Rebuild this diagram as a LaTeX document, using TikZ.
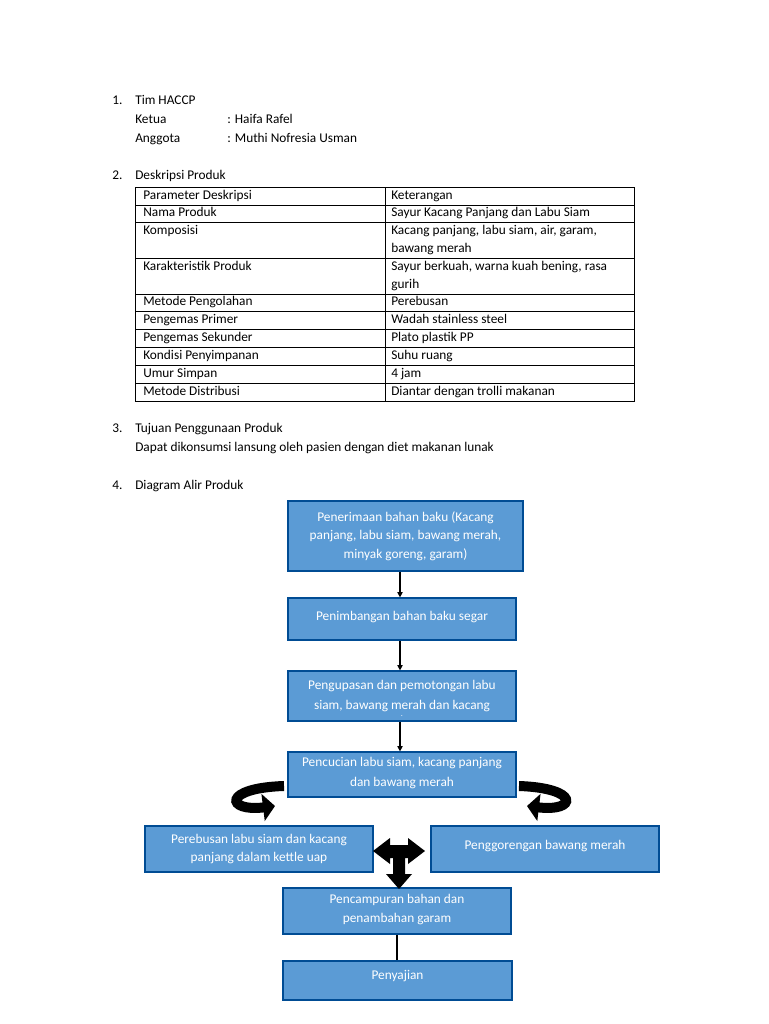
\documentclass[tikz,border=0pt]{standalone}
\usepackage{fontspec}
\setmainfont{Carlito}
\usetikzlibrary{arrows.meta}
\begin{document}
\begin{tikzpicture}[x=0.75pt,y=-0.75pt,font=\fontsize{10}{12}\selectfont,
  flow/.style={draw=blue!40!black!70!cyan,line width=0.9pt,fill={rgb,255:red,91;green,155;blue,213},text=white,align=center,inner sep=0pt},
  conn/.style={-{Triangle[length=4pt,width=4pt]},line width=0.8pt},
  cell/.style={anchor=west,inner sep=0pt,text height=7pt,text depth=2pt}]
\useasboundingbox (0,0) rectangle (768,1024);
% Section 1
\node[cell] (n1) at (112,101) {1.};
\node[cell] (t1) at (135,101) {Tim HACCP};
\node[cell] (k1) at (135,120) {Ketua};
\node[cell] (k2) at (227,120) {: Haifa Rafel};
\node[cell] (a1) at (135,139) {Anggota};
\node[cell] (a2) at (227,139) {: Muthi Nofresia Usman};
% Section 2
\node[cell] (n2) at (112,176) {2.};
\node[cell] (t2) at (135,176) {Deskripsi Produk};
\draw[line width=0.6pt] (135,187) rectangle (634,401);
\draw[line width=0.6pt] (385,187) -- (385,401);
\foreach \y in {205,222,258,294,311,329,347,365,383}{\draw[line width=0.6pt] (135,\y) -- (634,\y);}
\node[cell] at (143,196) {Parameter Deskripsi};
\node[cell] at (391,196) {Keterangan};
\node[cell] at (143,213.5) {Nama Produk};
\node[cell] at (391,213.5) {Sayur Kacang Panjang dan Labu Siam};
\node[cell] at (143,231) {Komposisi};
\node[cell] at (391,231) {Kacang panjang, labu siam, air, garam,};
\node[cell] at (391,249) {bawang merah};
\node[cell] at (143,267) {Karakteristik Produk};
\node[cell] at (391,267) {Sayur berkuah, warna kuah bening, rasa};
\node[cell] at (391,285) {gurih};
\node[cell] at (143,302.5) {Metode Pengolahan};
\node[cell] at (391,302.5) {Perebusan};
\node[cell] at (143,320) {Pengemas Primer};
\node[cell] at (391,320) {Wadah stainless steel};
\node[cell] at (143,338) {Pengemas Sekunder};
\node[cell] at (391,338) {Plato plastik PP};
\node[cell] at (143,356) {Kondisi Penyimpanan};
\node[cell] at (391,356) {Suhu ruang};
\node[cell] at (143,374) {Umur Simpan};
\node[cell] at (391,374) {4 jam};
\node[cell] at (143,392) {Metode Distribusi};
\node[cell] at (391,392) {Diantar dengan trolli makanan};
% Section 3
\node[cell] (n3) at (112,429) {3.};
\node[cell] (t3) at (135,429) {Tujuan Penggunaan Produk};
\node[cell] (d3) at (135,448) {Dapat dikonsumsi lansung oleh pasien dengan diet makanan lunak};
% Section 4
\node[cell] (n4) at (112,486) {4.};
\node[cell] (t4) at (135,486) {Diagram Alir Produk};
% flow boxes
\node[flow,minimum width=235*0.75pt,minimum height=70*0.75pt] (b1) at (405.5,536) {Penerimaan bahan baku (Kacang\\[2pt] panjang, labu siam, bawang merah,\\[2pt] minyak goreng, garam)};
\node[flow,minimum width=228*0.75pt,minimum height=42*0.75pt] (b2) at (402,619) {\raisebox{4pt}{Penimbangan bahan baku segar}};
\node[flow,minimum width=228*0.75pt,minimum height=50*0.75pt] (b3) at (402,696) {\raisebox{2pt}{\shortstack{Pengupasan dan pemotongan labu\\[3pt] siam, bawang merah dan kacang}}};
\node[text=white,inner sep=0pt,font=\fontsize{6}{6}\selectfont] (b3dot) at (402,716) {.};
\node[flow,minimum width=228*0.75pt,minimum height=45*0.75pt] (b4) at (402,774.5) {\raisebox{4pt}{\shortstack{Pencucian labu siam, kacang panjang\\[3pt] dan bawang merah}}};
\node[flow,minimum width=228*0.75pt,minimum height=46*0.75pt] (b5) at (259,849) {Perebusan labu siam dan kacang\\[2pt] panjang dalam kettle uap};
\node[flow,minimum width=228*0.75pt,minimum height=46*0.75pt] (b6) at (545,849) {\raisebox{6pt}{Penggorengan bawang merah}};
\node[flow,minimum width=228*0.75pt,minimum height=46*0.75pt] (b7) at (397,911) {\raisebox{4pt}{\shortstack{Pencampuran bahan dan\\[3pt] penambahan garam}}};
\node[flow,minimum width=229*0.75pt,minimum height=39*0.75pt] (b8) at (397.5,980.5) {\raisebox{8pt}{Penyajian}};
\draw[conn] (b1.south -| 400,0) -- (b2.north -| 400,0);
\draw[conn] (b2.south -| 400,0) -- (b3.north -| 400,0);
\draw[conn] (b3.south -| 400,0) -- (b4.north -| 400,0);
\draw[line width=0.8pt] (b7.south -| 397,0) -- (b8.north -| 397,0);
% curved arrows
\coordinate (lc) at (284,786);
\coordinate (rc) at (519,786);
\draw[line width=7.5pt,-{Triangle[length=9pt,width=20pt]}] (lc) .. controls (222,788) and (226,812) .. (275,806);
\draw[line width=7.5pt,-{Triangle[length=9pt,width=20pt]}] (rc) .. controls (580,788) and (577,812) .. (527,806);
% T arrow
\fill (373,851) -- (390,838) -- (390,845) -- (408,845) -- (408,838) -- (425,851) -- (408,864) -- (408,858) -- (405,858) -- (405,874) -- (412,874) -- (399,889) -- (386,874) -- (393,874) -- (393,858) -- (390,858) -- (390,864) -- cycle;
\end{tikzpicture}
\end{document}
